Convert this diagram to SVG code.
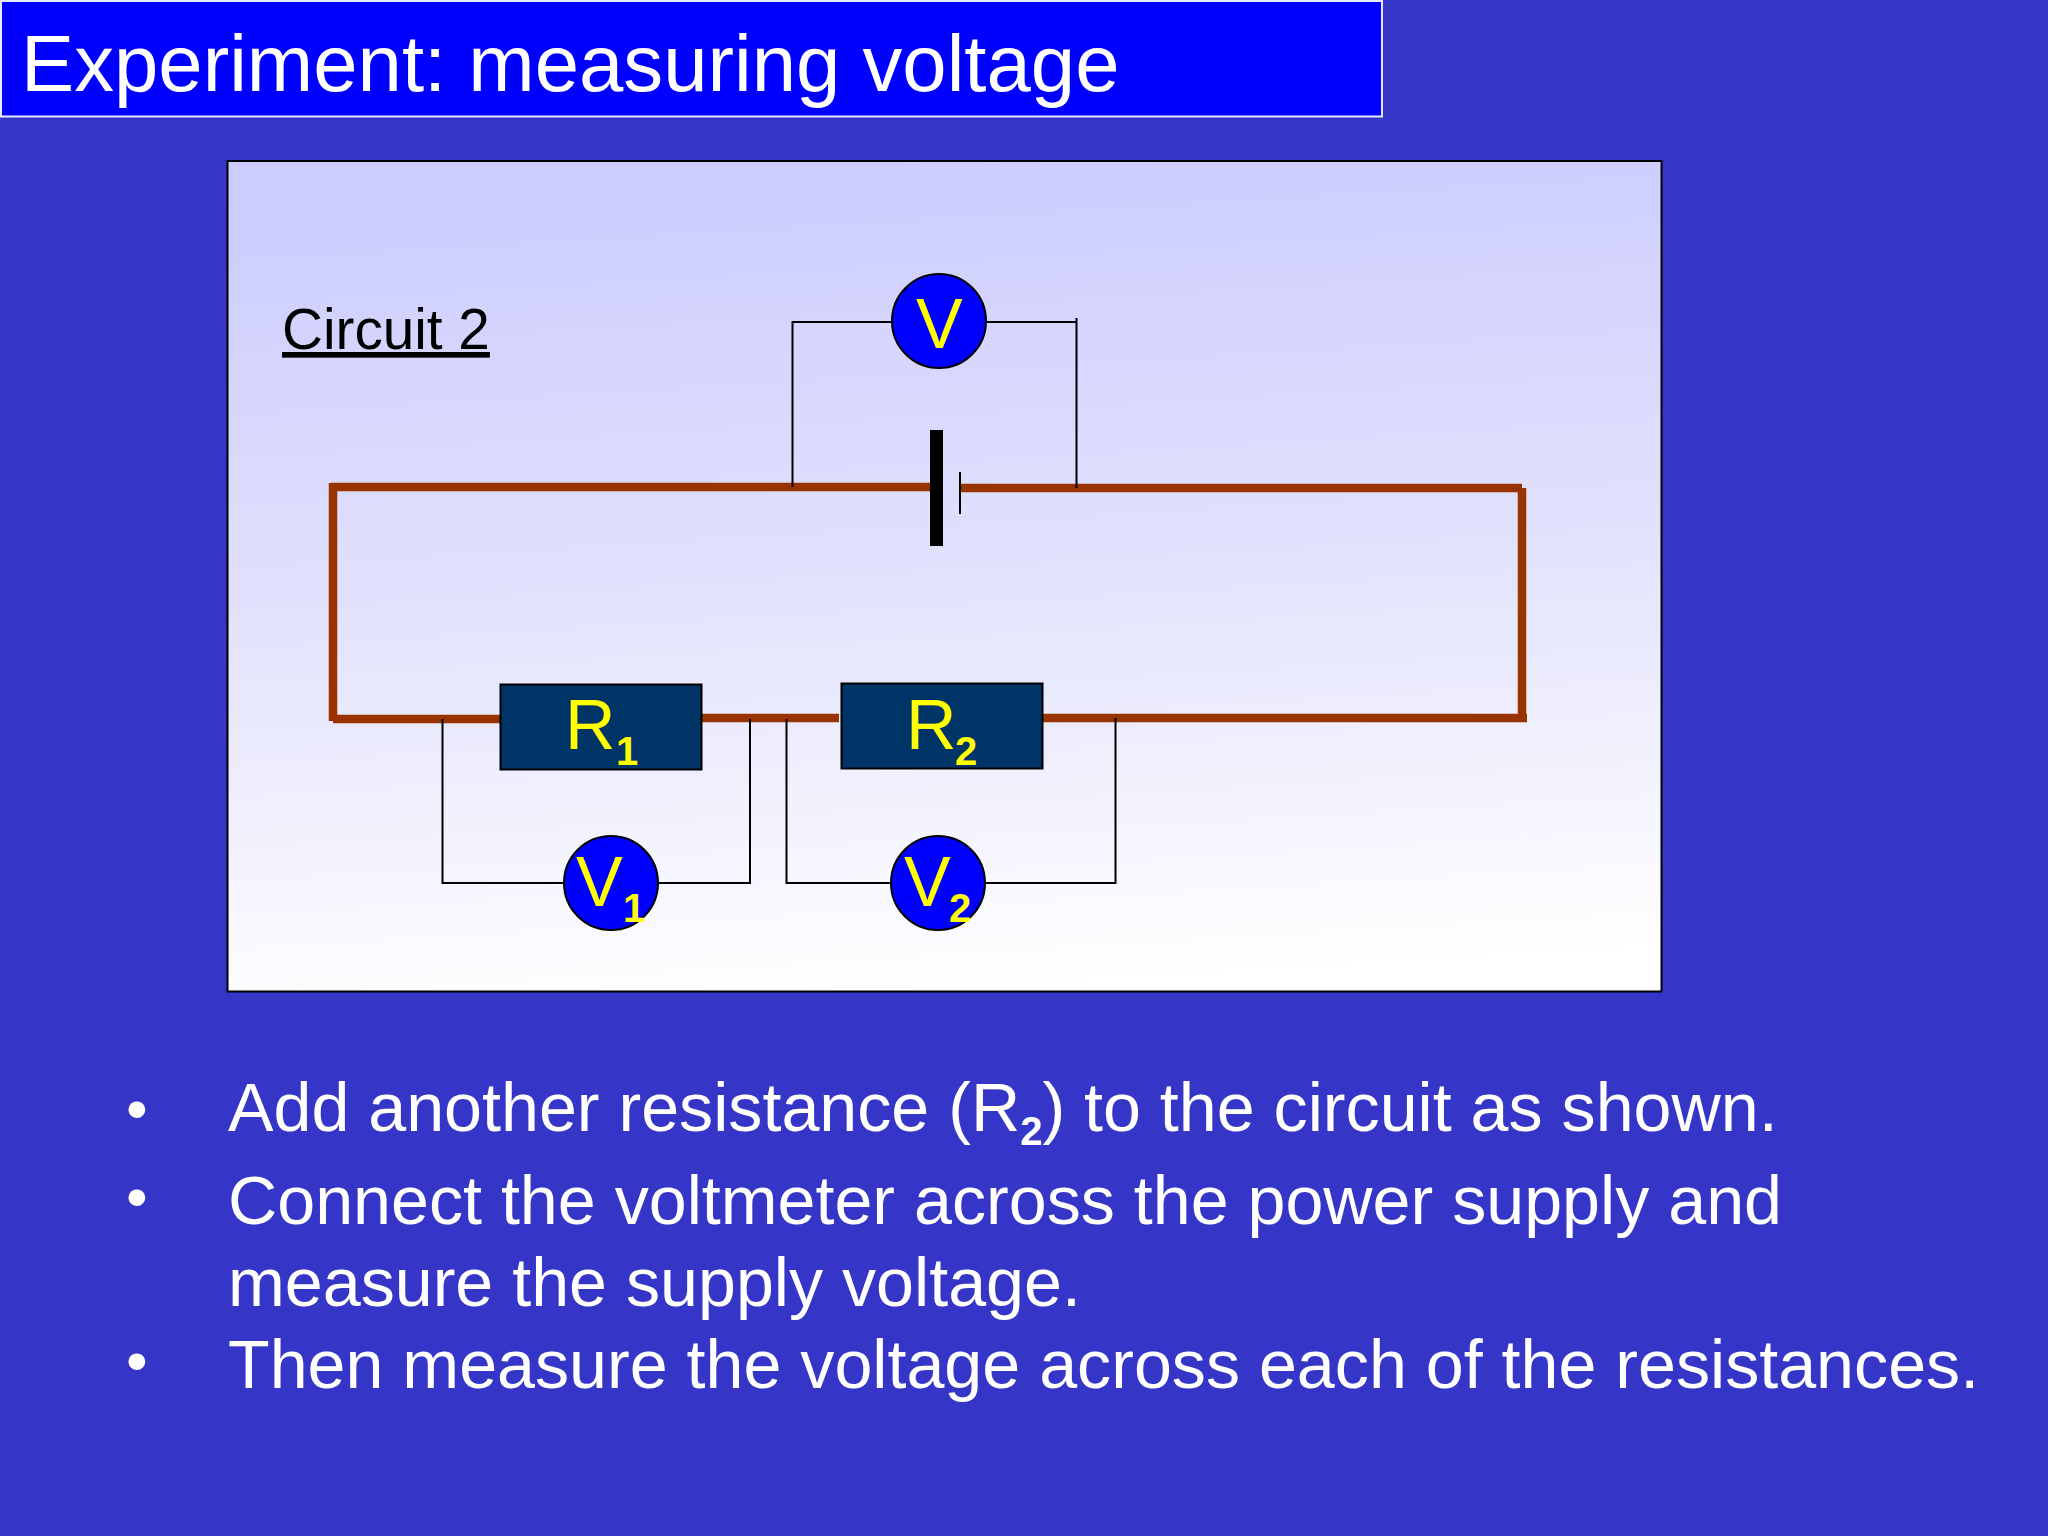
<svg xmlns="http://www.w3.org/2000/svg" width="2048" height="1536" viewBox="0 0 2048 1536">
<style>
text{font-family:"Liberation Sans",Arial,sans-serif}
.w{fill:#fff}.body{fill:#fff;font-size:68.200px}.b{fill:#fff;font-size:62px}
.y{fill:#ff0;font-size:70px}.s{fill:#ff0;font-size:40px;font-weight:bold}
.red{stroke:#993300;stroke-width:8.500;fill:none}
.thin{stroke:#000;stroke-width:2;fill:none}
.m{fill:#0000ff;stroke:#000;stroke-width:2}
.r{fill:#003366;stroke:#000;stroke-width:2}
</style>
<defs><linearGradient id="g" gradientUnits="userSpaceOnUse" x1="900" y1="161" x2="950" y2="991"><stop offset="0" stop-color="#ccccff"/><stop offset="0.5" stop-color="#e2e2fd"/><stop offset="1" stop-color="#ffffff"/></linearGradient></defs>
<rect width="2048" height="1536" fill="#3535c8"/>
<g id="title"><rect x="1" y="1" width="1381" height="115.500" fill="#0000ff" stroke="#e8e8ff" stroke-width="2"/>
<text class="w" x="21" y="91" font-size="79.700">Experiment: measuring voltage</text></g>
<g id="panel"><rect x="227.500" y="161" width="1434" height="830.500" fill="url(#g)" stroke="#000" stroke-width="2"/>
<text x="282" y="349" font-size="56.700" fill="#000" text-decoration="underline">Circuit 2</text></g>
<g id="connectors">
<path class="red" d="M934 487H331M333 483V721M333 719H500M702 718H839M1043 718H1527M960 488H1522M1522 488V718"/>
<path class="thin" d="M792.500 487V322H892M986 322H1076M1076.500 318V488M442.500 719V883H564M658 883H750V719M786.500 719V883H891M985 883H1115.500V718"/>
</g>
<g id="battery"><rect x="930" y="430" width="13" height="116" fill="#000"/><rect x="959" y="472" width="2" height="42" fill="#000"/></g>
<g id="R1"><rect class="r" x="500.500" y="684.500" width="201" height="85"/><text class="y" x="565" y="749">R</text><text class="s" x="616" y="765">1</text></g>
<g id="R2"><rect class="r" x="841.500" y="683.500" width="201" height="85"/><text class="y" x="906" y="749">R</text><text class="s" x="955" y="765">2</text></g>
<g id="V"><circle class="m" cx="939" cy="321" r="47"/><text class="y" x="916" y="348">V</text></g>
<g id="V1"><circle class="m" cx="611" cy="883" r="47"/><text class="y" x="576" y="906">V</text><text class="s" x="623" y="922">1</text></g>
<g id="V2"><circle class="m" cx="938" cy="883" r="47"/><text class="y" x="904" y="906">V</text><text class="s" x="949" y="922">2</text></g>
<g id="bullets">
<text class="b" x="126" y="1130">•</text>
<text class="body" x="228" y="1131">Add another resistance (R<tspan font-size="40" font-weight="bold" dy="14">2</tspan><tspan dy="-14">) to the circuit as shown.</tspan></text>
<text class="b" x="126" y="1218">•</text>
<text class="body" x="228" y="1224">Connect the voltmeter across the power supply and</text>
<text class="body" x="228" y="1306">measure the supply voltage.</text>
<text class="b" x="126" y="1382">•</text>
<text class="body" x="228" y="1388">Then measure the voltage across each of the resistances.</text>
</g>
</svg>
